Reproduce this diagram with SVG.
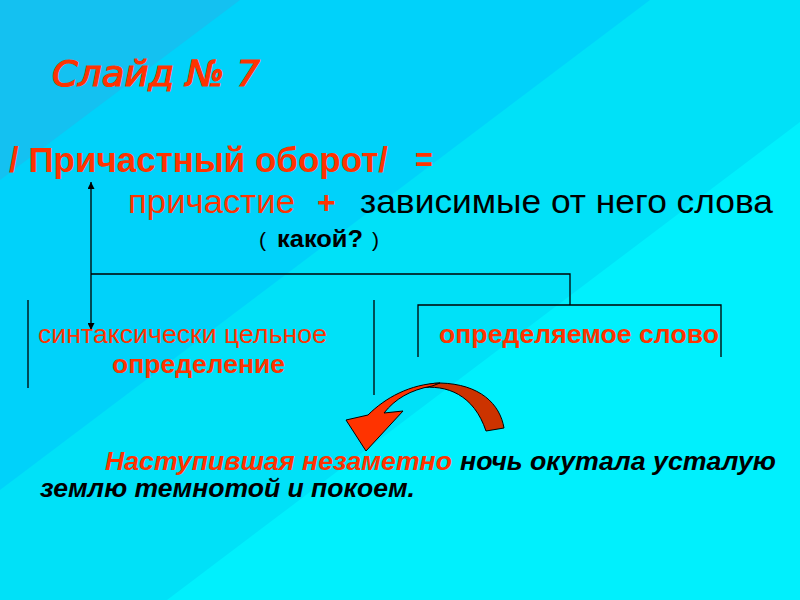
<svg xmlns="http://www.w3.org/2000/svg" width="800" height="600" viewBox="0 0 800 600">
<defs>
<style>
.sans{font-family:"Liberation Sans",Arial,sans-serif}
.red{fill:#ff3300}
.blk{fill:#000}
.ln{stroke:#000;stroke-width:1.3;fill:none}
</style>
<marker id="ah" viewBox="0 0 10 10" refX="10" refY="5" markerWidth="9" markerHeight="7" markerUnits="userSpaceOnUse" orient="auto-start-reverse">
<path d="M0,0 L10,5 L0,10 Z" fill="#000"/>
</marker>
</defs>
<g id="background">
<rect x="0" y="0" width="800" height="600" fill="#00f0fd"/>
<polygon points="0,0 800,0 800,122 167,600 0,600" fill="#00e1f8"/>
<polygon points="0,0 650,0 0,490" fill="#00d2fa"/>
<polygon points="0,0 240,0 0,180" fill="#14c1f1"/>
</g>
<g id="title">
<text x="52" y="86" class="red" font-family="'DejaVu Sans',sans-serif" font-style="italic" font-size="36" stroke="#ff3300" stroke-width="1.2" textLength="208" lengthAdjust="spacingAndGlyphs">Слайд № 7</text>
</g>
<g id="heading">
<text x="9" y="172" class="sans red" font-weight="bold" font-size="35" textLength="379" lengthAdjust="spacingAndGlyphs">/ Причастный оборот/</text>
<text x="415" y="172" class="sans red" font-weight="bold" font-size="35" textLength="18" lengthAdjust="spacingAndGlyphs">=</text>
</g>
<g id="formula">
<text x="128" y="213" class="sans red" font-size="33" textLength="167" lengthAdjust="spacingAndGlyphs">причастие</text>
<text x="317" y="213" class="sans red" font-weight="bold" font-size="32">+</text>
<text x="360" y="213" class="sans blk" font-size="33" textLength="413" lengthAdjust="spacingAndGlyphs">зависимые от него слова</text>
</g>
<g id="question">
<text x="259" y="247" class="sans blk" font-size="21">(</text>
<text x="277" y="247" class="sans blk" font-weight="bold" font-size="23" textLength="86" lengthAdjust="spacingAndGlyphs">какой?</text>
<text x="372" y="247" class="sans blk" font-size="21">)</text>
</g>
<g id="connectors">
<line x1="91" y1="274" x2="91" y2="182" class="ln" marker-end="url(#ah)"/>
<line x1="91" y1="274" x2="91" y2="330" class="ln" marker-end="url(#ah)"/>
<polyline points="91,274 570,274 570,305" class="ln"/>
<polyline points="418,357 418,305 721,305 721,357" class="ln"/>
<line x1="28" y1="300" x2="28" y2="388" class="ln"/>
<line x1="374" y1="300" x2="374" y2="395" class="ln"/>
</g>
<g id="node-definition">
<text x="38" y="343" class="sans red" font-size="25" textLength="289" lengthAdjust="spacingAndGlyphs">синтаксически цельное</text>
<text x="112" y="373" class="sans red" font-weight="bold" font-size="25" textLength="173" lengthAdjust="spacingAndGlyphs">определение</text>
</g>
<g id="node-defined-word">
<text x="439" y="343" class="sans red" font-weight="bold" font-size="25" textLength="280" lengthAdjust="spacingAndGlyphs">определяемое слово</text>
</g>
<g id="curved-arrow" stroke="#000" stroke-width="1" stroke-linejoin="miter">
<path d="M504,428 C500,404 480,384 440,383 C432,383 425,385 419,388 C447,384 474,395 486,431 Z" fill="#cc3300"/>
<path d="M440,383 C410,384 385,398 368,415 L346,420 L366,451 L403,411 L384,413 C395,399 410,390 432,386 Z" fill="#ff3300"/>
</g>
<g id="example">
<text x="105" y="470" class="sans red" font-weight="bold" font-style="italic" font-size="25" textLength="347" lengthAdjust="spacingAndGlyphs">Наступившая незаметно</text>
<text x="460" y="470" class="sans blk" font-weight="bold" font-style="italic" font-size="25" textLength="316" lengthAdjust="spacingAndGlyphs">ночь окутала усталую</text>
<text x="40" y="497" class="sans blk" font-weight="bold" font-style="italic" font-size="25" textLength="375" lengthAdjust="spacingAndGlyphs">землю темнотой и покоем.</text>
</g>
</svg>
